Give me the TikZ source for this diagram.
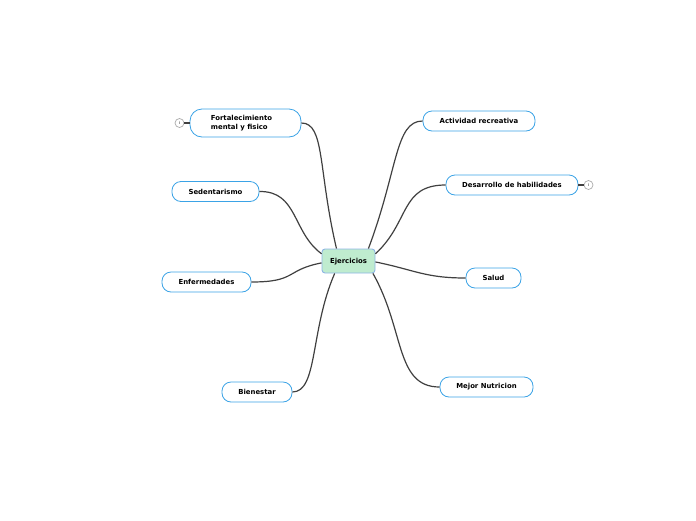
\documentclass[tikz,border=0pt]{standalone}
\usepackage{fontspec}
\setmainfont{DejaVu Sans}
\definecolor{topicblue}{HTML}{3BA3E6}
\definecolor{rootgreen}{HTML}{BFECCF}
\definecolor{rootedge}{HTML}{8DB4E4}
\definecolor{linkgrey}{HTML}{404040}
\tikzset{
  topic/.style={draw=topicblue,fill=white,line width=0.8pt,rounded corners=9pt,minimum height=20pt,inner sep=0pt,align=left,font=\fontsize{6.9}{9.5}\selectfont\bfseries},
  root/.style={draw=rootedge,fill=rootgreen,line width=0.9pt,rounded corners=3pt,minimum width=53pt,minimum height=24pt,inner sep=0pt,text height=5pt,text depth=0pt,font=\fontsize{6.9}{8}\selectfont\bfseries},
  info/.style={draw=gray!65,fill=white,circle,line width=0.7pt,minimum size=9pt,inner sep=0pt,font=\fontsize{4}{4}\selectfont},
  link/.style={draw=linkgrey,line width=1.2pt}
}
\begin{document}
\begin{tikzpicture}[x=1pt,y=-1pt]
\useasboundingbox (0,0) rectangle (696,520);
% central idea
\node[root] (ejercicios) at (348.5,261) {Ejercicios};

% left side
\node[topic,minimum width=111pt,minimum height=28pt,rounded corners=12pt] (fortal) at (245.5,123) {\hspace*{-8pt}\begin{tabular}{@{}l@{}}Fortalecimiento\\mental y fisico\end{tabular}};
\node[topic,minimum width=87pt] (sedent) at (215.5,191.5) {Sedentarismo};
\node[topic,minimum width=89pt] (enferm) at (206.5,282) {Enfermedades};
\node[topic,minimum width=70pt] (bienestar) at (257,392) {Bienestar};
\node[info] (infofortal) at (179.5,123) {i};

% right side
\node[topic,minimum width=112pt] (activ) at (479,121) {Actividad recreativa};
\node[topic,minimum width=132pt] (desarr) at (512,185) {Desarrollo de habilidades};
\node[topic,minimum width=55pt] (salud) at (493.5,278) {Salud};
\node[topic,minimum width=93pt] (mejor) at (486.5,387) {Mejor Nutricion};
\node[info] (infodesarr) at (588.5,185) {i};

% connectors
\draw[link] (fortal.east) .. controls (325,123) and (318,170) .. (ejercicios.134);
\draw[link] (sedent.east) .. controls (298,191) and (292,232) .. (ejercicios.165);
\draw[link] (enferm.east) .. controls (297,282) and (285,270) .. (ejercicios.184);
\draw[link] (bienestar.east) .. controls (318,392) and (310,330) .. (ejercicios.222);
\draw[link] (activ.west) .. controls (395,121) and (398,170) .. (ejercicios.32);
\draw[link] (desarr.west) .. controls (400,185) and (410,222) .. (ejercicios.15);
\draw[link] (salud.west) .. controls (425,278) and (415,270) .. (ejercicios.358);
\draw[link] (mejor.west) .. controls (395,387) and (405,330) .. (ejercicios.333);
\draw[link] (infofortal.east) -- (fortal.west);
\draw[link] (desarr.east) -- (infodesarr.west);
\end{tikzpicture}
\end{document}
